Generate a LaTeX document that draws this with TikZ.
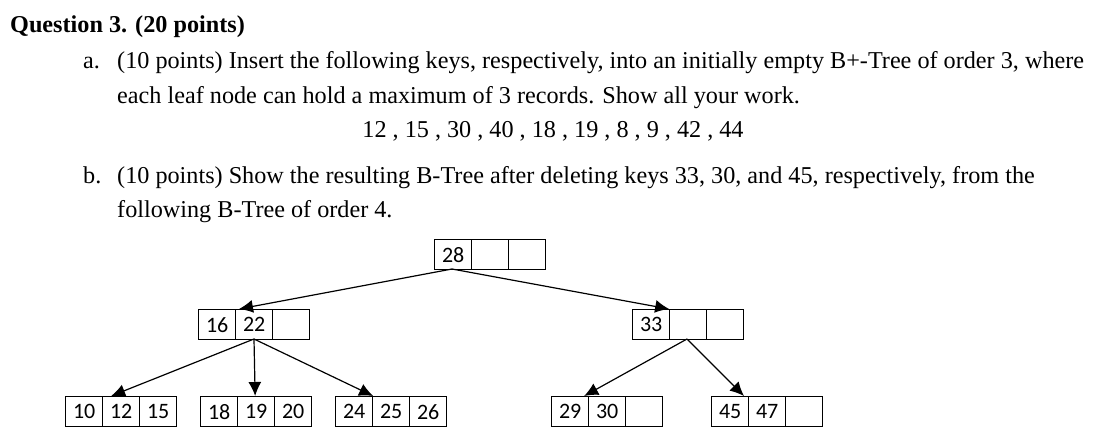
\documentclass[tikz,border=0pt]{standalone}
\usepackage{fontspec}
\usetikzlibrary{arrows.meta}
\setmainfont{Liberation Serif}
\newfontfamily\boxfont{Carlito}
\begin{document}
\begin{tikzpicture}[x=1pt,y=-1pt,
  cell/.style={draw,line width=1.3pt,minimum width=37pt,minimum height=30pt,inner sep=0pt,anchor=north west,font=\boxfont\fontsize{22}{22}\selectfont},
  txt/.style={anchor=base west,inner sep=0pt,font=\fontsize{24.2}{26}\selectfont},
  arr/.style={-{Latex[length=14pt,width=13pt]},line width=1.2pt}]
\useasboundingbox (0,0) rectangle (1096,447);
\node[txt,font=\bfseries\fontsize{24.2}{26}\selectfont] (q) at (10,32) {Question 3. (20 points)};
\node[txt] (a) at (83,68) {a.};
\node[txt] (a1) at (117,68) {(10 points) Insert the following keys, respectively, into an initially empty B+-Tree of order 3, where};
\node[txt] (a2) at (117,103) {each leaf node can hold a maximum of 3 records. Show all your work.};
\node[txt,anchor=base] (a3) at (553,137) {12 , 15 , 30 , 40 , 18 , 19 , 8 , 9 , 42 , 44};
\node[txt] (b) at (83,183) {b.};
\node[txt] (b1) at (117,183) {(10 points) Show the resulting B-Tree after deleting keys 33, 30, and 45, respectively, from the};
\node[txt] (b2) at (117,217) {following B-Tree of order 4.};
\def\tri#1#2#3#4#5#6{%
 \node[cell] (#1a) at (#2,#3) {#4};
 \node[cell] (#1b) at (#2+37,#3) {#5};
 \node[cell] (#1c) at (#2+74,#3) {#6};}
\tri{r}{434}{239}{28}{}{}
\tri{l}{198}{309}{16}{22}{}
\tri{m}{632}{309}{33}{}{}
\tri{p}{65}{396}{10}{12}{15}
\tri{s}{200}{396}{18}{19}{20}
\tri{t}{335}{396}{24}{25}{26}
\tri{u}{551}{396}{29}{30}{}
\tri{v}{711}{396}{45}{47}{}
\coordinate (r0) at (452,269);
\coordinate (l0) at (254,339);
\coordinate (m0) at (687,339);
\draw[arr] (r0) -- ([xshift=4pt]lb.north west);
\draw[arr] (r0) -- ([xshift=-19pt]mb.north);
\draw[arr] (l0) -- ([xshift=-10pt]pb.north);
\draw[arr] (l0) -- ([xshift=-1pt]sb.north);
\draw[arr] (l0) -- ([xshift=-18pt]tb.north);
\draw[arr] (m0) -- ([xshift=-23pt]ub.north);
\draw[arr] (m0) -- ([xshift=-4pt]vb.north west);
\end{tikzpicture}
\end{document}
